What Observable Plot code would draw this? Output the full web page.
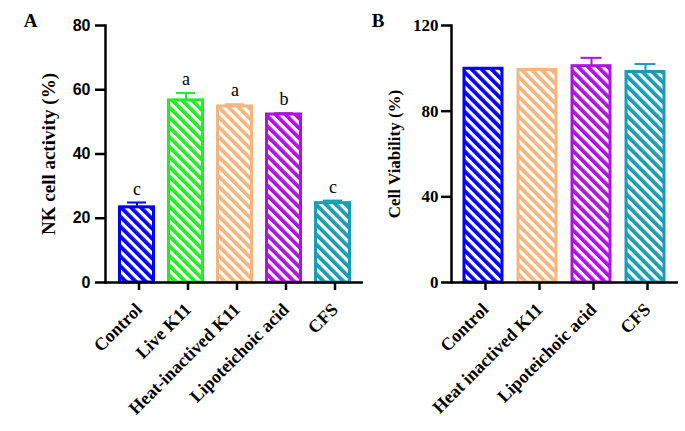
<!DOCTYPE html>
<html>
<head>
<meta charset="utf-8">
<script src="https://cdn.jsdelivr.net/npm/d3@7"></script>
<script src="https://cdn.jsdelivr.net/npm/@observablehq/plot@0.6"></script>
<style>
  body { margin: 0; background: #fff; }
  #wrap { display: flex; width: 685px; height: 431px; }
</style>
</head>
<body>
<div id="wrap"><div id="panelA"></div><div id="panelB"></div></div>
<script>
// panel A: NK cell activity
const groupsA = ["Control", "Live K11", "Heat-inactived K11", "Lipoteichoic acid", "CFS"];
const nkActivity = [23.4, 56.7, 54.8, 52.3, 24.7];
const nkErrTop = [24.9, 59.0, 55.5, 52.7, 25.5];
const nkLetters = ["c", "a", "a", "b", "c"];
const ticksA = [0, 20, 40, 60, 80];

// panel B: cell viability
const groupsB = ["Control", "Heat inactived K11", "Lipoteichoic acid", "CFS"];
const viability = [99.8, 99.2, 101.0, 98.3];
const viabilityErrTop = [99.8, 99.8, 104.9, 102.0];
const ticksB = [0, 40, 80, 120];

const palette = {
  "Control": "#0000ff",
  "Live K11": "#22ee22",
  "Heat-inactived K11": "#f4b67e",
  "Heat inactived K11": "#f4b67e",
  "Lipoteichoic acid": "#b010e0",
  "CFS": "#1a9db3"
};

const serif = "'Liberation Serif', 'Times New Roman', serif";
const sans = "'Liberation Sans', Arial, sans-serif";

const hatch = g => `url(#hatch-${palette[g].slice(1)})`;

function addHatches(svg) {
  const defs = d3.select(svg).insert("defs", ":first-child");
  for (const c of new Set(Object.values(palette))) {
    const p = defs.append("pattern")
      .attr("id", "hatch-" + c.slice(1))
      .attr("patternUnits", "userSpaceOnUse")
      .attr("width", 7).attr("height", 7)
      .attr("patternTransform", "rotate(-45)");
    p.append("rect").attr("width", 7).attr("height", 7).attr("fill", "#fff");
    p.append("rect").attr("width", 3.8).attr("height", 7).attr("fill", c);
  }
}

function panel({groups, values, tops, letters, ticks, yMax, width, marginLeft, padding, inset, capInset,
                title, titleSize, titleDx, tag, tagDx, tickFont, tickFontSize, tickPadding}) {
  const rows = groups.map((g, i) => ({group: g, value: values[i], top: tops[i], letter: letters ? letters[i] : ""}));
  const chart = Plot.plot({
    width, height: 431,
    marginLeft, marginRight: 7, marginTop: 25, marginBottom: 149,
    x: {domain: groups, padding, label: null, axis: null},
    y: {domain: [0, yMax], label: null, axis: null},
    marks: [
      Plot.barY(rows, {x: "group", y: "value", fill: d => hatch(d.group), stroke: d => palette[d.group],
        strokeWidth: 3, insetLeft: inset, insetRight: inset}),
      Plot.ruleX(rows, {x: "group", y1: "value", y2: "top", stroke: d => palette[d.group], strokeWidth: 2}),
      Plot.tickY(rows, {x: "group", y: "top", stroke: d => palette[d.group], strokeWidth: 2, inset: capInset}),
      Plot.text(rows, {x: "group", y: "top", text: "letter", dy: -8, lineAnchor: "bottom",
        fontFamily: serif, fontSize: 18}),
      Plot.axisY({ticks, tickSize: 10, tickPadding, strokeWidth: 2.5, fontFamily: tickFont,
        fontWeight: "bold", fontSize: tickFontSize, label: null}),
      Plot.axisX({tickRotate: -45, tickSize: 8, tickPadding: 16, strokeWidth: 2.5, fontFamily: serif,
        fontWeight: "bold", fontSize: 18, label: null, dx: 2}),
      Plot.ruleY([0], {strokeWidth: 2.5}),
      Plot.frame({anchor: "left", strokeWidth: 2.5}),
      Plot.text([title], {frameAnchor: "left", textAnchor: "middle", rotate: -90, dx: titleDx,
        fontFamily: serif, fontWeight: "bold", fontSize: titleSize}),
      Plot.text([tag], {frameAnchor: "top-left", textAnchor: "middle", dx: tagDx, dy: 1, lineAnchor: "bottom",
        fontFamily: serif, fontWeight: "bold", fontSize: 19})
    ]
  });
  addHatches(chart);
  return chart;
}

const chartA = panel({groups: groupsA, values: nkActivity, tops: nkErrTop, letters: nkLetters, ticks: ticksA,
  yMax: 80, width: 370, marginLeft: 105, padding: 0.245, inset: 1.5, capInset: 9,
  title: "NK cell activity (%)", titleSize: 19, titleDx: -57, tag: "A", tagDx: -75,
  tickFont: sans, tickFontSize: 16, tickPadding: 5});
const chartB = panel({groups: groupsB, values: viability, tops: viabilityErrTop, letters: null, ticks: ticksB,
  yMax: 120, width: 315, marginLeft: 81, padding: 0.185, inset: 3, capInset: 11.5,
  title: "Cell Viability (%)", titleSize: 17, titleDx: -56.5, tag: "B", tagDx: -73.5,
  tickFont: serif, tickFontSize: 17, tickPadding: 3});

d3.select("#panelA").append(() => chartA);
d3.select("#panelB").append(() => chartB);
</script>
</body>
</html>
